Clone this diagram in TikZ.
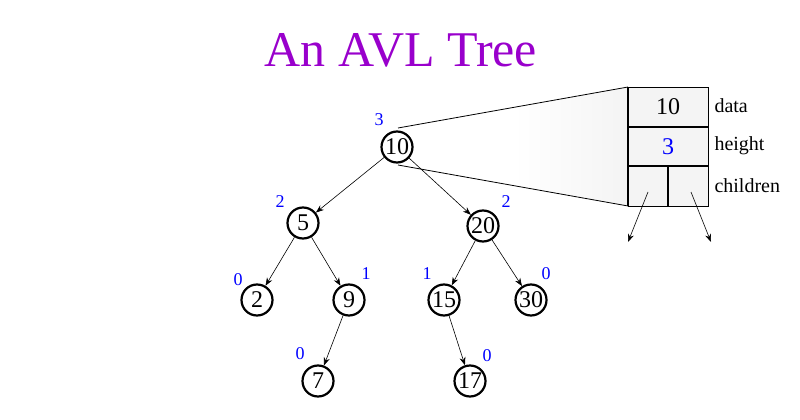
\documentclass[tikz,border=0pt]{standalone}
\usepackage{fontspec}
\setmainfont{Liberation Serif}
\usetikzlibrary{arrows.meta}
\definecolor{ttl}{RGB}{153,0,204}
\definecolor{boxgray}{RGB}{244,244,244}
\begin{document}
\begin{tikzpicture}[x=1pt,y=-1pt,
  tn/.style={circle,draw,line width=2.2pt,minimum size=31pt,inner sep=0pt,font=\fontsize{24}{24}\selectfont},
  hl/.style={text=blue,font=\fontsize{18}{18}\selectfont},
  ed/.style={-{Stealth[length=8pt,width=6pt]},line width=0.6pt},
  lb/.style={anchor=west,font=\fontsize{20}{20}\selectfont}]
\useasboundingbox (0,0) rectangle (800,420);
\node[text=ttl,font=\fontsize{50}{50}\selectfont] (title) at (401,50) {An AVL Tree};
% cone
\shade[left color=white,right color=boxgray,shading=axis] (513,107) -- (628,87) -- (628,206) -- (513,186) -- cycle;
\coordinate (ct) at (398,128);
\coordinate (cb) at (398,165);
\draw[line width=0.8pt] (ct) -- (628,87);
\draw[line width=0.8pt] (cb) -- (628,206);
% box
\draw[fill=boxgray,line width=1pt] (628,87) rectangle (708,206);
\draw[line width=1.8pt] (628,87) -- (628,206);
\draw[line width=1.8pt] (628,127) -- (708,127) (628,166) -- (708,166) (668,166) -- (668,206);
\node[font=\fontsize{24}{24}\selectfont] (bd) at (668,107) {10};
\node[text=blue,font=\fontsize{24}{24}\selectfont] (bh) at (668,147) {3};
\node[lb] (ld) at (711,106) {data};
\node[lb] (lh) at (711,146) {height};
\node[lb] (lc) at (711,186) {children};
\coordinate (c1) at (648,192); \coordinate (c1e) at (628,242);
\coordinate (c2) at (691,192); \coordinate (c2e) at (711,242);
\draw[ed] (c1) -- (c1e);
\draw[ed] (c2) -- (c2e);
% tree
\node[tn] (n10) at (397,147) {10};
\node[tn] (n5) at (303,223) {5};
\node[tn] (n20) at (483,226) {20};
\node[tn] (n2) at (257,300) {2};
\node[tn] (n9) at (349,300) {9};
\node[tn] (n15) at (444,300) {15};
\node[tn] (n30) at (531,300) {30};
\node[tn] (n7) at (318,381) {7};
\node[tn] (n17) at (470,381) {17};
\draw[ed] (n10) -- (n5);
\draw[ed] (n10) -- (n20);
\draw[ed] (n5) -- (n2);
\draw[ed] (n5) -- (n9);
\draw[ed] (n20) -- (n15);
\draw[ed] (n20) -- (n30);
\draw[ed] (n9) -- (n7);
\draw[ed] (n15) -- (n17);
\node[hl] (h10) at (379,120) {3};
\node[hl] (h5) at (280,202) {2};
\node[hl] (h20) at (506,202) {2};
\node[hl] (h2) at (238,280) {0};
\node[hl] (h9) at (366,274) {1};
\node[hl] (h15) at (427,274) {1};
\node[hl] (h30) at (546,274) {0};
\node[hl] (h7) at (300,354) {0};
\node[hl] (h17) at (487,356) {0};
\end{tikzpicture}
\end{document}
